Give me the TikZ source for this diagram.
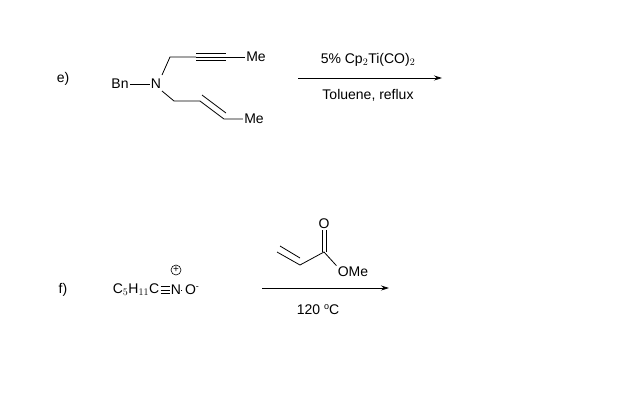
\documentclass[tikz,border=0pt]{standalone}
\usepackage{fontspec}
\setmainfont{Liberation Sans}
\usetikzlibrary{arrows.meta}
\begin{document}
\begin{tikzpicture}[x=1pt,y=-1pt,line width=0.8pt,
  every node/.style={font=\fontsize{14}{16}\selectfont,inner sep=1pt},
  bond/.style={line width=0.8pt},
  rxn/.style={-{Stealth[length=8pt,width=5pt]},line width=0.8pt}]
\useasboundingbox (0,0) rectangle (644,416);
% e)
\node (le) at (63,79) {e)};
\node (bn) at (120,84) {Bn};
\node (n1) at (156,84) {N};
\draw[bond] (bn.east) -- (n1.west);
\coordinate (a1) at (162,75); \coordinate (a2) at (170,57);
\coordinate (a3) at (196,57); \coordinate (a4) at (226,57);
\node (me1) at (256,57) {Me};
\draw[bond] (a1) -- (a2) -- (a3);
\draw[bond] (a3) -- (a4);
\draw[bond] ([yshift=-3.5]a3) -- ([yshift=-3.5]a4);
\draw[bond] ([yshift=3.5]a3) -- ([yshift=3.5]a4);
\draw[bond] (a4) -- (me1.west);
\coordinate (b1) at (162,91); \coordinate (b2) at (174,101);
\coordinate (b3) at (200,101); \coordinate (b4) at (224,119);
\node (me2) at (254,119) {Me};
\draw[bond] (b1) -- (b2) -- (b3) -- (b4) -- (me2.west);
\draw[bond] (202,95) -- (226,113);
\coordinate (e1) at (298,78); \coordinate (e2) at (442,78);
\draw[rxn] (e1) -- (e2);
\node (t1) at (368,60) {5\% Cp$_2$Ti(CO)$_2$};
\node (t2) at (368,95) {Toluene, reflux};
% f)
\node (lf) at (63,290) {f)};
\node (c5) at (136,290) {C$_5$H$_{11}$C};
\node (n2) at (176,290) {N};
\draw[bond] (c5.east) -- (n2.west);
\draw[bond] ([yshift=-3.5]c5.east) -- ([yshift=-3.5]n2.west);
\draw[bond] ([yshift=3.5]c5.east) -- ([yshift=3.5]n2.west);
\node[circle,draw,line width=0.6pt,inner sep=0pt,minimum size=10pt,font=\fontsize{10}{10}\selectfont] (plus) at (176,270) {+};
\node (o1) at (192,290) {O\raisebox{5pt}{\fontsize{9}{9}\selectfont -}};
\draw[bond] (n2.east) -- ([xshift=-3]o1.west);
\coordinate (f1) at (262,288); \coordinate (f2) at (389,288);
\draw[rxn] (f1) -- (f2);
\node (t3) at (318,310) {120 \raisebox{5pt}{\fontsize{9}{9}\selectfont o}C};
\coordinate (v1) at (277,252); \coordinate (v2) at (300,265);
\coordinate (cc) at (324,252);
\node (o2) at (324,224) {O};
\node (ome) at (353,272) {OMe};
\draw[bond] (v1) -- (v2) -- (cc) -- (ome.north west);
\draw[bond] (280,246) -- (300,258);
\draw[bond] ([xshift=-2]cc) -- ([xshift=-2]o2.south);
\draw[bond] ([xshift=2]cc) -- ([xshift=2]o2.south);
\end{tikzpicture}
\end{document}
